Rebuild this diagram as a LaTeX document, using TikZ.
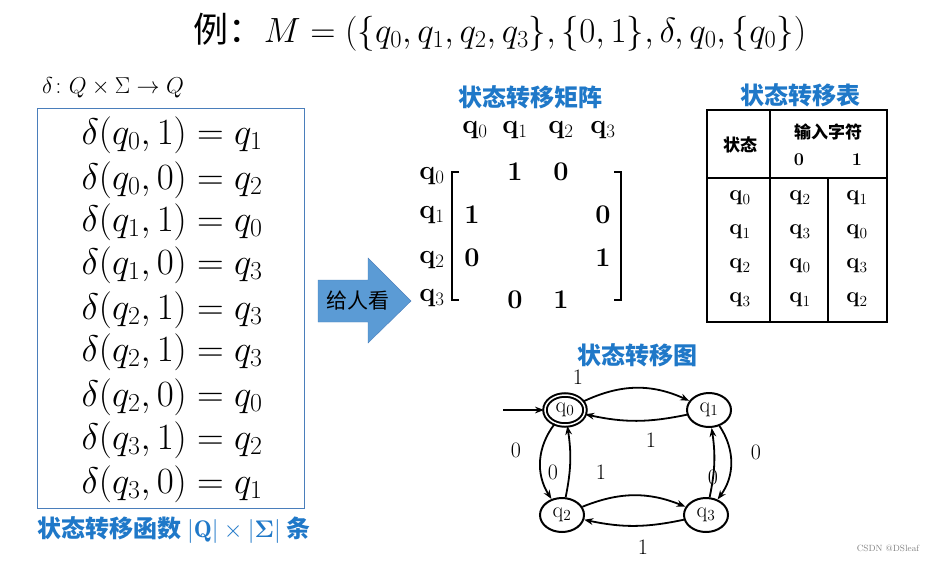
\RequirePackage{fix-cm}
\documentclass[tikz,border=0pt]{standalone}
\usepackage{amsmath}
\usepackage{fontspec}
\newfontfamily\cjk{Noto Sans CJK SC}
\usetikzlibrary{shapes.geometric,arrows.meta}
\definecolor{tblue}{HTML}{1F78C8}
\definecolor{bord}{HTML}{4A7EBB}
\definecolor{arrfill}{HTML}{5B9BD5}
\begin{document}
\begin{tikzpicture}[x=1pt,y=-1pt,
  eq/.style={font=\fontsize{37}{40}\selectfont},
  ttl/.style={font=\cjk\bfseries\fontsize{24}{26}\selectfont,text=tblue},
  mx/.style={font=\bfseries\fontsize{27}{29}\selectfont},
  tb/.style={font=\bfseries\fontsize{22}{24}\selectfont},
  st/.style={draw,line width=2pt,ellipse,minimum width=44,minimum height=34,inner sep=0pt,font=\fontsize{22}{24}\selectfont},
  ed/.style={line width=1.8pt,-{Stealth[length=9pt]}},
  el/.style={font=\fontsize{22}{24}\selectfont}]
\useasboundingbox (0,0) rectangle (943,563);
\node (title) at (500,32) {\fontsize{35}{38}\selectfont{\cjk 例：}$M=(\{q_0,q_1,q_2,q_3\},\{0,1\},\delta,q_0,\{q_0\})$};
\node (sig) at (113,88) {\fontsize{23}{26}\selectfont$\delta\colon Q\times\Sigma\to Q$};
\node[draw=bord,minimum width=267,minimum height=400,anchor=north west] (box) at (37,108) {};
\foreach \y/\a/\b/\c in {135/0/1/1,180/0/0/2,222/1/1/0,265/1/0/3,310/2/1/3,352/2/1/3,397/2/0/0,440/3/1/2,484/3/0/1}
  \node[eq] (e\y) at (172,\y) {$\delta(q_{\a},\b)=q_{\c}$};
\node[font=\cjk\bfseries\fontsize{24}{26}\selectfont,text=tblue] (fn) at (174,530) {状态转移函数 $|\mathbf{Q}|\times|\boldsymbol{\Sigma}|$ 条};
\draw[draw=bord,fill=arrfill] (318,280) -- (368,280) -- (368,258) -- (411,301) -- (368,343) -- (368,322) -- (318,322) -- cycle;
\node[font=\cjk\fontsize{21}{23}\selectfont] (arr) at (358,301) {给人看};
% matrix
\node[ttl] (mt) at (530,97) {状态转移矩阵};
\foreach \x/\i in {475/0,515/1,561/2,603/3} \node[mx] (c\i) at (\x,130) {q$_{\i}$};
\foreach \y/\i in {176/0,215/1,260/2,298/3} \node[mx] (r\i) at (432,\y) {q$_{\i}$};
\draw[line width=1.3pt] (459,172) -- (452,172) -- (452,300) -- (459,300);
\draw[line width=1.3pt] (614,172) -- (621,172) -- (621,300) -- (614,300);
\foreach \x/\y/\v in {515/172/1,561/172/0,472/215/1,603/215/0,472/258/0,603/258/1,515/300/0,561/300/1}
  \node[mx] at (\x,\y) {\v};
% table
\node[ttl] (tt) at (800,95) {状态转移表};
\draw[line width=1.6pt] (707,110) rectangle (887,322);
\draw[line width=1.2pt] (770,110) -- (770,322) (707,178) -- (887,178) (828,178) -- (828,322);
\node[font=\cjk\bfseries\fontsize{17}{19}\selectfont] at (740,145) {状态};
\node[font=\cjk\bfseries\fontsize{17}{19}\selectfont] at (828,132) {输入字符};
\node[tb,font=\bfseries\fontsize{18}{20}\selectfont] at (799,160) {0};
\node[tb,font=\bfseries\fontsize{18}{20}\selectfont] at (857,160) {1};
\foreach \y/\s/\a/\b in {198/0/2/1,232/1/3/0,266/2/0/3,300/3/1/2}{
  \node[tb] at (740,\y) {q$_{\s}$};
  \node[tb] at (800,\y) {q$_{\a}$};
  \node[tb] at (857,\y) {q$_{\b}$};}
% graph
\node[ttl] (gt) at (637,355) {状态转移图};
\node[st,double,double distance=1.5pt,minimum width=40,minimum height=30] (q0) at (565,410) {$\mathrm{q}_0$};
\node[st] (q1) at (709,410) {$\mathrm{q}_1$};
\node[st] (q2) at (562,515) {$\mathrm{q}_2$};
\node[st] (q3) at (706,515) {$\mathrm{q}_3$};
\coordinate (s) at (503,410);
\draw[ed] (s) -- (q0);
\draw[ed] (q0) to[bend left=25] (q1);
\draw[ed] (q1) to[bend left=12] (q0);
\draw[ed] (q0) to[bend right=35] (q2);
\draw[ed] (q2) to[bend right=10] (q0);
\draw[ed] (q2) to[bend left=22] (q3);
\draw[ed] (q3) to[bend left=12] (q2);
\draw[ed] (q1) to[bend left=35] (q3);
\draw[ed] (q3) to[bend right=10] (q1);
\foreach \x/\y/\v in {578/377/1,651/440/1,516/450/0,553/472/0,601/472/1,643/547/1,756/452/0,713/477/0}
  \node[el] at (\x,\y) {$\v$};
\node[text=gray,font=\fontsize{9}{11}\selectfont] (cs) at (888,548) {CSDN @DSleaf};
\end{tikzpicture}
\end{document}
